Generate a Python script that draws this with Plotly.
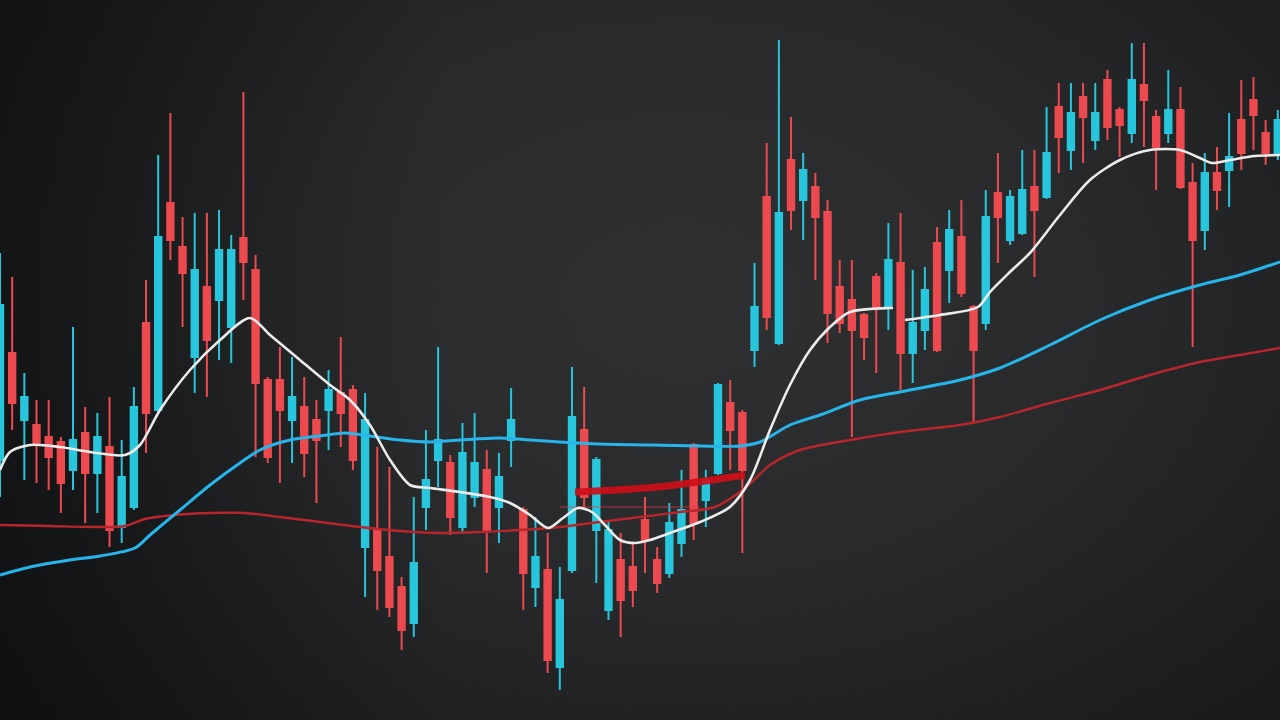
import plotly.graph_objects as go

# ---------------- data (prices) ----------------
sessions = list(range(106))

opens = [126.0,136.7,130.0,129.5,128.3,127.8,125.0,128.7,124.7,127.3,
         119.3,121.3,139.7,131.0,151.7,147.3,136.3,143.3,142.0,139.3,
         148.2,145.0,134.0,134.0,130.0,131.3,130.0,131.0,132.7,133.0,
         117.3,119.0,116.3,113.3,109.7,121.3,126.0,125.7,119.3,122.3,
         125.0,121.3,128.0,121.0,113.3,115.0,105.3,115.0,129.0,119.0,
         111.0,116.0,115.3,120.0,116.0,114.7,117.7,127.5,122.0,124.7,
         131.7,130.7,137.0,152.3,137.7,156.0,152.0,153.3,150.8,143.3,
         142.0,140.5,144.3,141.3,145.7,136.7,139.0,147.7,145.0,148.3,
         141.3,139.7,152.7,148.0,148.7,153.3,152.3,161.3,157.0,162.3,
         158.0,164.0,161.0,158.7,163.5,160.3,158.7,161.0,153.7,149.0,
         154.7,155.0,160.0,162.0,158.7,156.7]

closes = [141.5,131.7,132.3,127.7,126.3,123.7,128.0,124.7,128.3,119.0,
          124.3,131.3,130.7,148.3,148.0,144.7,145.0,138.0,147.0,147.0,
          145.8,133.7,126.3,131.0,132.3,126.7,128.0,133.0,130.7,126.0,
          130.0,115.0,111.3,109.0,115.7,124.0,128.0,120.3,126.7,125.7,
          119.0,124.3,130.0,114.7,116.3,106.0,112.0,130.3,122.3,126.0,
          119.0,112.0,113.0,118.0,113.7,119.7,121.0,119.7,124.0,133.5,
          129.0,125.0,141.3,140.3,150.7,151.0,155.0,150.3,140.7,139.7,
          139.0,138.3,141.3,146.0,136.7,139.7,143.0,137.0,149.0,142.7,
          137.0,150.3,150.3,152.3,153.0,151.0,156.7,158.3,160.7,160.3,
          160.7,159.3,159.5,164.0,162.0,157.3,161.0,153.3,148.0,154.7,
          153.0,156.3,156.7,160.5,156.7,160.0]

highs = [146.7,144.3,134.7,132.0,132.0,128.3,139.3,131.3,130.7,132.3,
         128.0,133.3,144.0,156.5,160.7,150.3,150.7,150.7,151.0,148.5,
         162.8,146.5,134.3,137.3,136.3,134.3,132.0,135.0,138.3,133.5,
         132.7,127.3,125.3,114.3,122.3,129.0,137.3,126.5,129.7,130.7,
         127.0,126.7,133.2,121.3,120.3,118.7,115.3,135.3,133.3,126.3,
         120.0,118.7,117.7,122.3,117.3,121.7,125.0,127.7,125.0,133.7,
         134.0,131.0,145.7,157.7,168.0,160.3,156.7,154.7,152.0,146.0,
         146.0,140.7,144.7,149.7,150.7,145.0,145.3,149.3,151.0,152.0,
         141.5,153.0,156.7,153.0,157.0,157.0,161.3,163.7,163.7,163.7,
         163.7,165.0,161.3,167.7,167.7,161.0,165.0,163.3,155.7,156.7,
         157.3,160.7,164.0,164.3,160.0,161.0]

lows = [122.3,129.0,124.0,123.7,123.0,120.7,123.0,119.7,120.7,117.3,
        117.7,121.0,126.7,130.7,146.0,139.3,132.7,132.3,136.0,135.7,
        142.0,126.3,125.7,123.7,125.7,124.3,121.7,127.0,127.3,125.0,
        112.3,111.0,110.3,107.0,108.3,119.0,123.3,118.5,118.7,121.3,
        114.7,117.7,125.3,111.0,111.3,104.7,103.0,114.7,121.0,113.7,
        110.0,108.3,111.3,114.7,112.7,114.2,116.3,118.0,119.3,124.5,
        125.0,116.7,135.3,139.0,137.5,149.0,148.0,144.0,137.7,138.7,
        128.3,136.0,134.7,139.0,133.0,133.7,137.0,136.8,141.7,142.3,
        129.7,139.0,145.7,147.5,148.5,144.3,152.1,154.7,155.0,155.7,
        157.0,158.0,156.3,157.7,157.3,153.0,157.7,153.1,137.3,147.0,
        151.0,151.3,155.0,157.0,155.5,156.0]

# moving-average lines, read at points along each curve
fast_ma_x = [0, 0.82, 2.47, 4.93, 7.40, 10.27, 11.50, 13.15, 15.61, 18.08,
             20.54, 22.19, 24.65, 27.12, 28.76, 30.40, 32.05, 33.69, 35.33, 37.80,
             40.26, 41.91, 43.55, 45.03, 46.26, 47.49, 48.64, 49.71, 50.95, 52.18,
             53.41, 55.05, 57.52, 59.98, 61.63, 63.27, 64.91, 66.56, 68.20, 69.84,
             73.13, 73.38, None, 74.36, 77.24, 80.36, 81.35, 82.99, 84.63, 87.10,
             89.56, 92.03, 94.49, 96.96, 98.60, 99.59, 101.07, 103.12, 105.18]
fast_ma_y = [125.0, 126.8, 127.5, 127.3, 126.8, 126.5, 127.5, 131.0, 135.0, 138.0,
             140.2, 138.5, 136.0, 133.5, 132.0, 129.5, 126.0, 123.5, 123.2, 122.8,
             122.3, 121.7, 120.5, 119.2, 120.2, 121.2, 120.8, 119.5, 118.0, 117.7,
             118.0, 118.7, 119.8, 121.3, 124.0, 129.0, 133.5, 137.0, 139.3, 140.8,
             141.2, 141.2, None, 140.0, 140.5, 141.3, 142.8, 144.8, 146.7, 150.5,
             154.0, 156.0, 157.0, 157.0, 156.2, 155.7, 156.0, 156.4, 156.5]

mid_ma_x = [0, 2.47, 5.75, 8.22, 11.09, 12.33, 14.79, 17.26, 19.72, 21.36,
            23.83, 26.29, 28.35, 30.40, 32.87, 35.33, 37.80, 41.08, 43.55, 46.01,
            49.30, 53.41, 57.52, 60.81, 62.45, 64.91, 67.38, 70.67, 73.95, 78.88,
            82.17, 86.28, 90.39, 94.49, 98.60, 101.89, 105.18]
mid_ma_y = [114.5, 115.3, 116.0, 116.4, 117.2, 118.5, 121.0, 123.5, 125.7, 127.0,
            128.0, 128.4, 128.7, 128.4, 128.0, 127.8, 128.0, 128.2, 128.0, 127.8,
            127.6, 127.5, 127.4, 127.4, 127.8, 129.5, 130.5, 132.0, 132.8, 134.0,
            135.2, 137.5, 140.0, 142.0, 143.5, 144.5, 145.8]

slow_ma_x = [0, 4.11, 8.22, 10.27, 11.91, 14.38, 17.26, 20.13, 23.01, 26.29,
             29.58, 32.87, 36.15, 39.44, 42.73, 46.01, 49.30, 52.59, 55.88, 58.75,
             61.22, 63.27, 65.74, 69.84, 73.95, 78.88, 82.17, 86.28, 90.39, 94.49,
             98.60, 101.89, 105.18]
slow_ma_y = [119.5, 119.4, 119.3, 119.4, 120.1, 120.5, 120.7, 120.7, 120.3, 119.8,
             119.3, 118.9, 118.7, 118.8, 119.0, 119.3, 119.8, 120.3, 120.8, 121.3,
             123.2, 125.5, 127.0, 128.0, 128.8, 129.5, 130.3, 131.7, 133.0, 134.5,
             135.8, 136.5, 137.2]

# highlighted support band and faint level
band_x = [47.25, 54.0, 61.22]
band_y = [122.8, 123.3, 124.5]
level_x = [46.0, 57.5]
level_y = [121.3, 121.3]

X_RANGE = [0, 105.18]
Y_RANGE = [100, 172]

# ---------------- figure ----------------
fig = go.Figure()

# background glow (base subplot, below everything)
fig.add_trace(go.Scatter(
    x=[-18, 130, 130, -18, -18], y=[82, 82, 202, 202, 82],
    mode="lines", line=dict(width=0), fill="toself",
    fillgradient=dict(type="radial",
                      colorscale=[[0, "#2e3031"], [0.45, "#282a2b"], [1, "#17181a"]]),
    hoverinfo="skip", showlegend=False, xaxis="x", yaxis="y"))
fig.add_trace(go.Scatter(
    x=[-1, 37, 37, -1, -1], y=[82, 82, 202, 202, 82],
    mode="lines", line=dict(width=0), fill="toself",
    fillgradient=dict(type="horizontal", start=-1, stop=37,
                      colorscale=[[0, "rgba(6,7,7,0.45)"], [1, "rgba(6,7,7,0)"]]),
    hoverinfo="skip", showlegend=False, xaxis="x", yaxis="y"))

# candles
fig.add_trace(go.Candlestick(
    x=sessions, open=opens, high=highs, low=lows, close=closes,
    increasing=dict(line=dict(color="#27c6dc", width=2), fillcolor="#27c6dc"),
    decreasing=dict(line=dict(color="#ec4a4f", width=2), fillcolor="#ec4a4f"),
    whiskerwidth=0, hoverinfo="skip", showlegend=False,
    xaxis="x2", yaxis="y2"))

# level lines
fig.add_trace(go.Scatter(x=level_x, y=level_y, mode="lines",
                         line=dict(color="rgba(230,60,70,0.35)", width=2),
                         hoverinfo="skip", showlegend=False, xaxis="x2", yaxis="y2"))
fig.add_trace(go.Scatter(x=band_x, y=band_y, mode="lines",
                         line=dict(color="rgba(205,14,24,0.92)", width=7, shape="spline"),
                         hoverinfo="skip", showlegend=False, xaxis="x2", yaxis="y2"))

# moving averages
fig.add_trace(go.Scatter(x=slow_ma_x, y=slow_ma_y, mode="lines",
                         line=dict(color="#b8262c", width=2.4, shape="spline", smoothing=0.8),
                         hoverinfo="skip", showlegend=False, xaxis="x2", yaxis="y2"))
fig.add_trace(go.Scatter(x=mid_ma_x, y=mid_ma_y, mode="lines",
                         line=dict(color="#27b4ea", width=3, shape="spline", smoothing=0.8),
                         hoverinfo="skip", showlegend=False, xaxis="x2", yaxis="y2"))
fig.add_trace(go.Scatter(x=fast_ma_x, y=fast_ma_y, mode="lines",
                         line=dict(color="#ebebeb", width=2.6, shape="spline", smoothing=0.8),
                         connectgaps=False,
                         hoverinfo="skip", showlegend=False, xaxis="x2", yaxis="y2"))

hidden = dict(visible=False, showgrid=False, zeroline=False, fixedrange=True)
fig.update_layout(
    width=1280, height=720,
    margin=dict(l=0, r=0, t=0, b=0),
    paper_bgcolor="#18191a",
    plot_bgcolor="rgba(0,0,0,0)",
    showlegend=False,
    hovermode=False,
    boxgap=0.25,
    xaxis=dict(range=X_RANGE, rangeslider=dict(visible=False), **hidden),
    yaxis=dict(range=Y_RANGE, **hidden),
    xaxis2=dict(range=X_RANGE, overlaying="x", anchor="y2",
                rangeslider=dict(visible=False), **hidden),
    yaxis2=dict(range=Y_RANGE, overlaying="y", anchor="x2", **hidden),
)

fig.write_html(
    "out.html",
    config={"displayModeBar": False},
    post_script="document.body.style.margin='0';document.body.style.padding='0';"
                "document.body.style.overflow='hidden';"
                "document.body.style.background='#18191a';",
)
